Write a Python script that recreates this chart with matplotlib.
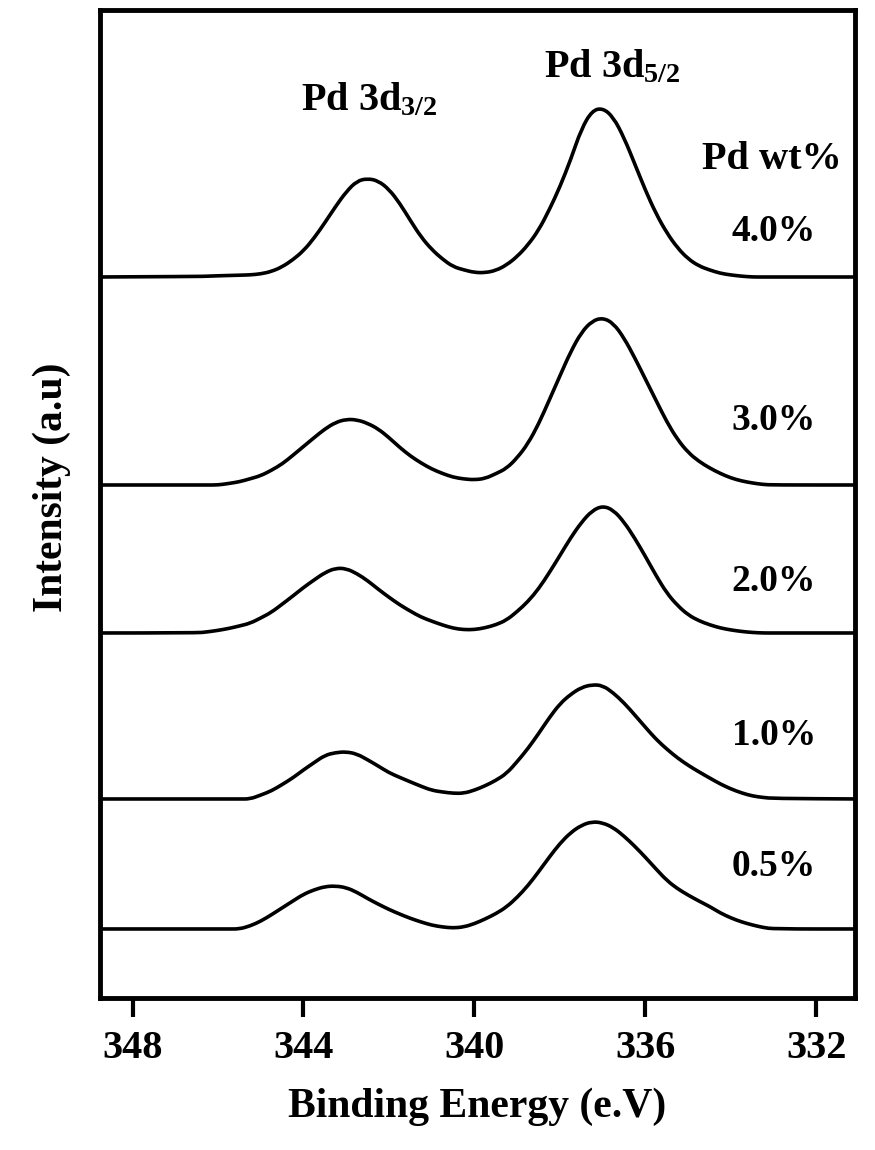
import matplotlib
matplotlib.use("Agg")
import matplotlib.pyplot as plt
from matplotlib.path import Path
from matplotlib.patches import PathPatch
import numpy as np

plt.rcParams['font.family'] = ['Liberation Serif', 'DejaVu Serif']
plt.rcParams['font.weight'] = 'bold'
plt.rcParams['mathtext.fontset'] = 'custom'
plt.rcParams['mathtext.rm'] = 'Liberation Serif:bold'
plt.rcParams['mathtext.it'] = 'Liberation Serif:bold'
plt.rcParams['mathtext.bf'] = 'Liberation Serif:bold'

# binding energy grid (eV)
energy = [348.8,
          346.5, 346.25, 346.0, 345.75, 345.5, 345.25, 345.0, 344.75, 344.5, 344.25,
          344.0, 343.75, 343.5, 343.25, 343.0, 342.75, 342.5, 342.25, 342.0, 341.75,
          341.5, 341.25, 341.0, 340.75, 340.5, 340.25, 340.0, 339.75, 339.5, 339.25,
          339.0, 338.75, 338.5, 338.25, 338.0, 337.75, 337.5, 337.25, 337.0, 336.75,
          336.5, 336.25, 336.0, 335.75, 335.5, 335.25, 335.0, 334.75, 334.5, 334.25,
          334.0, 333.75, 333.5, 333.25, 333.0,
          331.0]

# intensity above each trace's own baseline (a.u.)
i_40 = [0,
        0.5, 0.8, 1.2, 1.5, 1.8, 2.1, 3.1, 5.5, 10.1, 17.2,
        26.2, 39, 54.3, 70.5, 85.3, 96, 98.5, 96.1, 87.7, 73.8,
        56.5, 40, 27.5, 17.9, 10.3, 7.1, 4.5, 4.3, 6.5, 12,
        20.5, 32, 46.8, 67.2, 90.3, 117.4, 148.1, 166.3, 169, 159.7,
        139.1, 113, 86.5, 63, 44, 29, 18, 11, 7, 3.7,
        2, 0.8, 0, 0, 0,
        0]
i_30 = [0,
        0, 0, 0, 1.5, 3.2, 6.2, 9.3, 14.7, 21, 29.6,
        38.5, 47.4, 56, 62.6, 65.7, 65.2, 61.7, 56, 47.4, 37.6,
        29, 22, 16, 11.5, 7.8, 6, 5.2, 6.5, 11.3, 16.6,
        27.2, 41.3, 61, 85, 109.3, 133.3, 152.6, 164, 167.2, 161.7,
        146.9, 127.1, 105.7, 84.3, 63, 45.4, 32.4, 23.6, 17, 11.5,
        7, 4, 2, 0.5, 0,
        0]
i_20 = [0,
        0, 1.1, 2.6, 4.5, 7, 9.7, 15, 20.7, 28.8, 36.9,
        45.5, 53.1, 60.4, 64.8, 64.4, 59.4, 52.3, 43.7, 35.7, 28.2,
        21.8, 15.9, 11.8, 8, 4.8, 3.3, 3.4, 5.2, 8.2, 12.9,
        21.5, 31.4, 44.2, 60.3, 77.6, 95.2, 110.6, 122.3, 127.1, 122.9,
        110.9, 94.7, 76.4, 57.2, 39.8, 27.4, 18, 12.2, 8.2, 5,
        3, 1.5, 0.5, 0, 0,
        0]
i_10 = [0,
        0, 0, 0, 0, 0, 0, 3.9, 8.1, 14.4, 21.1,
        29.1, 36.4, 43.7, 46.4, 47.2, 45, 39.2, 32.9, 26.3, 21.6,
        17.1, 12.7, 8.7, 7, 5.7, 5.7, 8.8, 13.2, 18.6, 25.5,
        37.4, 50.4, 65.4, 81.3, 95.3, 104.7, 111.5, 114.3, 113.5, 106,
        96, 84, 71.6, 59.6, 49.8, 41, 33.6, 27.1, 21, 15,
        10, 6, 3, 1.5, 0.5,
        0]
i_05 = [0,
        0, 0, 0, 0, 0, 3, 7.8, 14.2, 21.1, 27.9,
        34.7, 39.2, 42.4, 43, 41.4, 36.7, 30.4, 24.8, 19.5, 14.9,
        10.6, 7, 3.8, 2, 1, 2, 5.3, 10, 15.3, 22,
        31.7, 43.3, 57.2, 71.9, 85.6, 96.4, 103.7, 107.3, 106.2, 101.3,
        92.8, 82.7, 71.6, 59.8, 48.5, 40.2, 33.8, 27.9, 22.5, 16,
        11, 7, 4, 1.5, 0,
        0]

labels = ['4.0%', '3.0%', '2.0%', '1.0%', '0.5%']
series = [i_40, i_30, i_20, i_10, i_05]
offsets = [721, 513, 365, 199, 69]
label_y = [766, 577, 416, 262, 131]


def smooth_trace(ax, xs, ys, **kw):
    # quadratic segments through midpoints, so the trace draws as a smooth curve
    pts = np.column_stack([xs, ys])
    verts = [pts[0]]
    codes = [Path.MOVETO]
    for i in range(1, len(pts) - 1):
        mid = (pts[i] + pts[i + 1]) / 2
        verts += [pts[i], mid]
        codes += [Path.CURVE3, Path.CURVE3]
    verts.append(pts[-1])
    codes.append(Path.LINETO)
    ax.add_patch(PathPatch(Path(verts, codes), fill=False, **kw))


fig = plt.figure(figsize=(8.75, 11.5), dpi=100)
ax = fig.add_axes([0.1143, 0.1322, 0.8628, 0.8591])

x = np.array(energy)
for vals, off in zip(series, offsets):
    smooth_trace(ax, x, np.array(vals) + off, edgecolor='black', lw=2.6,
                 joinstyle='round', capstyle='butt')

for lab, ly in zip(labels, label_y):
    ax.text(333.0, ly, lab, ha='center', va='center', fontsize=27, fontweight='bold')

ax.text(333.05, 838, 'Pd wt%', ha='center', va='center', fontsize=29, fontweight='bold')
ax.text(342.45, 898, r'Pd 3d$_{3/2}$', ha='center', va='center', fontsize=29)
ax.text(336.78, 931, r'Pd 3d$_{5/2}$', ha='center', va='center', fontsize=29)

ax.set_xlim(348.76, 331.1)
ax.set_ylim(0, 988)
ax.set_xticks([348, 344, 340, 336, 332])
ax.set_yticks([])
ax.tick_params(axis='x', direction='out', length=14, width=3, pad=9, labelsize=29)
for lbl in ax.get_xticklabels():
    lbl.set_fontweight('bold')
for sp in ax.spines.values():
    sp.set_linewidth(3.5)

ax.set_xlabel('Binding Energy (e.V)', fontsize=30, fontweight='bold', labelpad=15)
ax.set_ylabel('Intensity (a.u)', fontsize=30, fontweight='bold')
ax.yaxis.set_label_coords(-0.038, 0.517)

fig.savefig('out.png', dpi=100)
